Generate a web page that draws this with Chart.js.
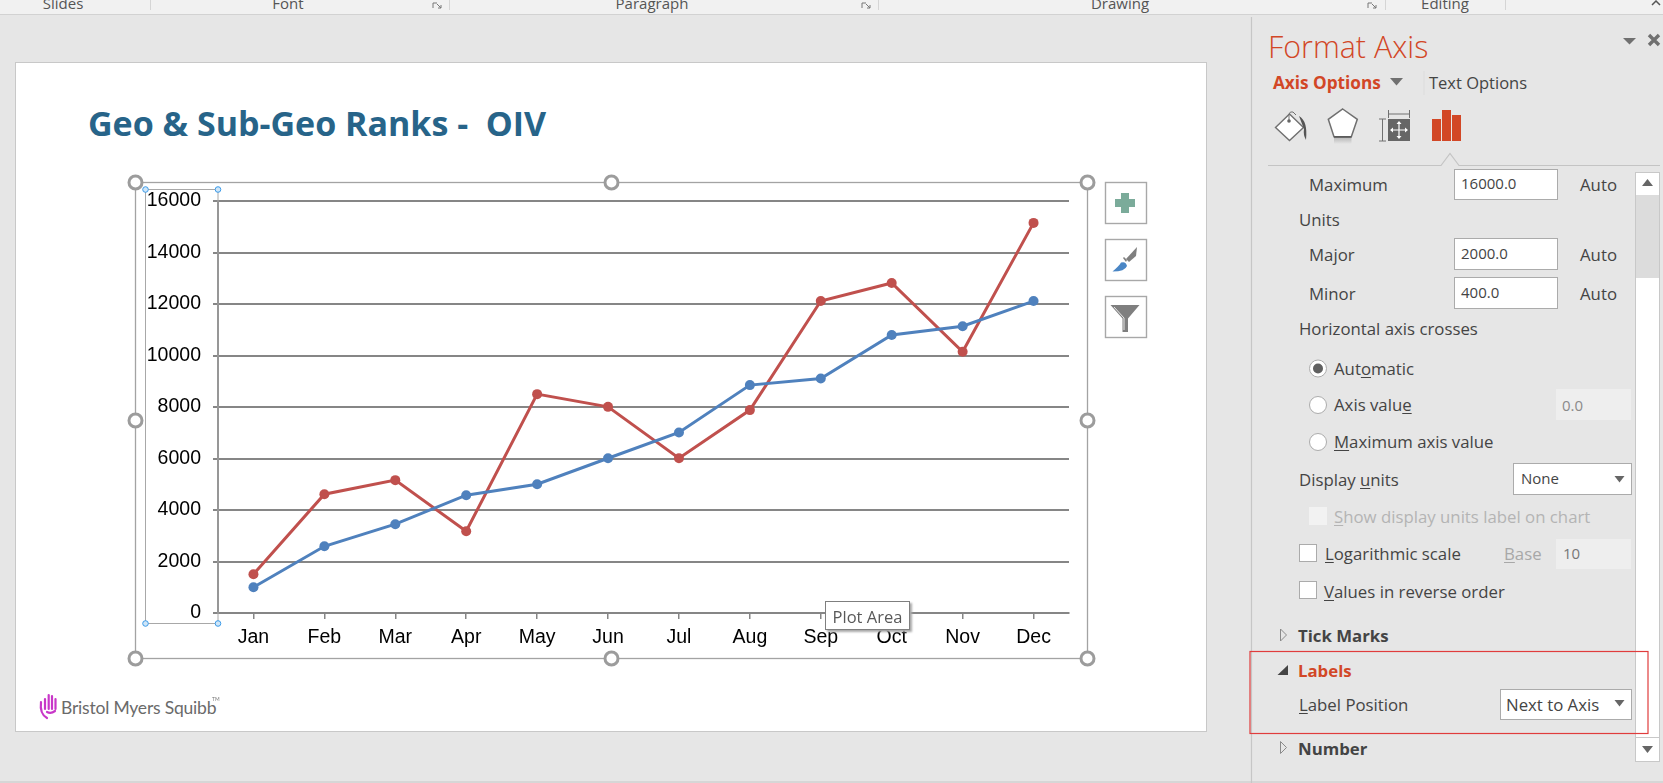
<!DOCTYPE html>
<html>
<head>
<meta charset="utf-8">
<title>Format Axis</title>
<script src="https://cdn.jsdelivr.net/npm/chart.js@4/dist/chart.umd.min.js"></script>
<style>
html,body{margin:0;padding:0;width:1663px;height:783px;overflow:hidden;background:#e6e6e6;font-family:"Open Sans",sans-serif;color:#444}
div{position:absolute;box-sizing:border-box}
.t{white-space:nowrap;font-size:16.8px;line-height:20px;transform:translateY(-50%)}
.b{font-weight:700}
.r{color:#d24726}
.dis{color:#b4b4b4}
.box{background:#fff;border:1.5px solid #ababab}
.off{background:#eeeeee}
.val{white-space:nowrap;font-size:15px;line-height:20px;transform:translateY(-50%)}
u{text-underline-offset:2px}
#ribbon{left:0;top:0;width:1663px;height:15px;background:#f1f1f1;border-bottom:1.5px solid #d2d2d2;overflow:hidden}
#ribbon .g{top:-7px;font-size:15px;line-height:20px;color:#555;transform:translateX(-50%);white-space:nowrap}
#ribbon .s{top:0;width:1px;height:10px;background:#d5d5d5}
#slide{left:15px;top:62px;width:1192px;height:670px;background:#fff;border:1.5px solid #c8c8c8}
#cv{position:absolute;left:135px;top:177px}
#over{position:absolute;left:0;top:0;pointer-events:none}
#tip{left:825px;top:601px;width:85px;height:29px;background:#fff;border:1px solid #7f7f7f;box-shadow:2px 2px 2px #aaa;font-size:16.5px;line-height:29px;color:#595959;text-align:center;white-space:nowrap}
</style>
</head>
<body>
<div id="ribbon">
  <div class="g" style="left:63px">Slides</div>
  <div class="g" style="left:288px">Font</div>
  <div class="g" style="left:652px">Paragraph</div>
  <div class="g" style="left:1120px">Drawing</div>
  <div class="g" style="left:1445px">Editing</div>
  <div class="s" style="left:150px"></div>
  <div class="s" style="left:449px"></div>
  <div class="s" style="left:878px"></div>
  <div class="s" style="left:1385px"></div>
  <div class="s" style="left:1505px"></div>
</div>
<div id="slide"></div>
<div class="t b" id="title" style="left:88px;top:123px;font-size:34px;line-height:40px;color:#276489;white-space:pre">Geo &amp; Sub-Geo Ranks -  OIV</div>
<div class="t" style="left:61px;top:708px;font-family:Lato,sans-serif;font-size:17.5px;line-height:24px;color:#6a6a6a;letter-spacing:-0.2px">Bristol Myers Squibb</div>

<canvas id="cv" width="950" height="478" style="width:950px;height:478px"></canvas>

<!-- task pane -->
<div class="t r" style="left:1268px;top:47px;font-size:30.4px;line-height:38px;font-weight:300">Format Axis</div>
<div class="t b r" style="left:1273px;top:83px;font-size:17.2px">Axis Options</div>
<div class="t" style="left:1429px;top:83px;font-size:16.5px">Text Options</div>

<div class="t" style="left:1309px;top:185px">Maximum</div>
<div class="box" style="left:1454px;top:169px;width:104px;height:31px"></div>
<div class="val" style="left:1461px;top:183px">16000.0</div>
<div class="t" style="left:1580px;top:185px">Auto</div>
<div class="t" style="left:1299px;top:220px">Units</div>
<div class="t" style="left:1309px;top:255px">Major</div>
<div class="box" style="left:1454px;top:238px;width:104px;height:32px"></div>
<div class="val" style="left:1461px;top:253px">2000.0</div>
<div class="t" style="left:1580px;top:255px">Auto</div>
<div class="t" style="left:1309px;top:294px">Minor</div>
<div class="box" style="left:1454px;top:277px;width:104px;height:32px"></div>
<div class="val" style="left:1461px;top:292px">400.0</div>
<div class="t" style="left:1580px;top:294px">Auto</div>
<div class="t" style="left:1299px;top:329px">Horizontal axis crosses</div>
<div class="t" style="left:1334px;top:369px">Aut<u>o</u>matic</div>
<div class="t" style="left:1334px;top:405px">Axis valu<u>e</u></div>
<div class="off" style="left:1556px;top:389px;width:75px;height:31px"></div>
<div class="val" style="left:1562px;top:405px;color:#8a8a8a">0.0</div>
<div class="t" style="left:1334px;top:442px"><u>M</u>aximum axis value</div>
<div class="t" style="left:1299px;top:480px">Display <u>u</u>nits</div>
<div class="box" style="left:1513px;top:463px;width:119px;height:32px"></div>
<div class="val" style="left:1521px;top:478px">None</div>
<div class="off" style="left:1309px;top:507px;width:18px;height:18px;background:#f2f2f2"></div>
<div class="t dis" style="left:1334px;top:517px"><u>S</u>how display units label on chart</div>
<div class="box" style="left:1299px;top:544px;width:18px;height:18px"></div>
<div class="t" style="left:1325px;top:554px"><u>L</u>ogarithmic scale</div>
<div class="t dis" style="left:1504px;top:554px;color:#a8a8a8"><u>B</u>ase</div>
<div class="off" style="left:1556px;top:539px;width:75px;height:30px"></div>
<div class="val" style="left:1563px;top:553px;color:#777">10</div>
<div class="box" style="left:1299px;top:581px;width:18px;height:18px"></div>
<div class="t" style="left:1324px;top:592px"><u>V</u>alues in reverse order</div>
<div class="t b" style="left:1298px;top:636px">Tick Marks</div>
<div class="t b r" style="left:1298px;top:671px">Labels</div>
<div class="t" style="left:1299px;top:705px"><u>L</u>abel Position</div>
<div class="box" style="left:1500px;top:689px;width:132px;height:31px"></div>
<div class="t" style="left:1506px;top:705px">Next to Axis</div>
<div class="t b" style="left:1298px;top:749px">Number</div>

<div class="box" style="left:1635px;top:172px;width:25px;height:590px;border-color:#c8c8c8;border-width:1px"></div>
<div style="left:1636px;top:195px;width:23px;height:83px;background:#dcdcdc"></div>
<div style="left:1635px;top:737px;width:25px;height:1px;background:#c8c8c8"></div>

<svg id="over" width="1663" height="783" viewBox="0 0 1663 783">
  <!-- chart selection frame -->
  <rect x="135.5" y="182.5" width="952" height="476" fill="none" stroke="#a3a3a3" stroke-width="1.3"/>
  <rect x="145.5" y="189.5" width="72.5" height="434" fill="none" stroke="#a8a8a8" stroke-width="1"/>
  <g fill="#fff" stroke="#9c9c9c" stroke-width="3">
    <circle cx="135.5" cy="182.5" r="6.5"/><circle cx="611.5" cy="182.5" r="6.5"/><circle cx="1087.5" cy="182.5" r="6.5"/>
    <circle cx="135.5" cy="420.5" r="6.5"/><circle cx="1087.5" cy="420.5" r="6.5"/>
    <circle cx="135.5" cy="658.5" r="6.5"/><circle cx="611.5" cy="658.5" r="6.5"/><circle cx="1087.5" cy="658.5" r="6.5"/>
  </g>
  <g fill="#cfe6f8" stroke="#3b9ae8" stroke-width="1">
    <circle cx="145.5" cy="189.5" r="2.8"/><circle cx="218" cy="189.5" r="2.8"/>
    <circle cx="145.5" cy="623.5" r="2.8"/><circle cx="218" cy="623.5" r="2.8"/>
  </g>

  <!-- chart side buttons -->
  <g fill="#fff" stroke="#a8a8a8" stroke-width="1.4">
    <rect x="1105.5" y="182.5" width="41" height="41"/>
    <rect x="1105.5" y="239.5" width="41" height="41"/>
    <rect x="1105.5" y="296.5" width="41" height="41"/>
  </g>
  <path d="M1121 193h8v6h6v8h-6v6h-8v-6h-6v-8h6z" fill="#7bab9a"/>
  <path d="M1137 247l-1 9-7 6-3-3z" fill="#7f7f7f"/>
  <path d="M1127 260l-3-3-1 1 3 4z" fill="#7f7f7f"/>
  <path d="M1112.5 271.5Q1119 266 1121 262.5Q1126 261 1127 266Q1125 271.5 1112.5 271.5z" fill="#4a86c5"/>
  <path d="M1110.5 305h29l-11.5 13.5v13.5h-5.5v-13.5z" fill="#7f7f7f"/>
  <path d="M1114 307l10 11v12" fill="none" stroke="#e8e8e8" stroke-width="1"/>

  <!-- logo hand -->
  <g fill="none" stroke="#c837c8" stroke-width="2.2" stroke-linecap="round">
    <path d="M45 699V709"/><path d="M48.7 695V709"/><path d="M52 696V709"/><path d="M55.5 699V709"/>
    <path d="M41 702Q39.5 714 47 718"/>
    <path d="M47 712Q51 714 55 711"/>
  </g>
  <text x="212" y="701" font-family="Lato,sans-serif" font-size="5" fill="#777">TM</text>

  <!-- ribbon launchers -->
  <g fill="none" stroke="#777" stroke-width="1">
    <path d="M433 8V3h4M437 4l4 4M441 5v3h-3"/>
    <path d="M862 8V3h4M866 4l4 4M870 5v3h-3"/>
    <path d="M1368 8V3h4M1372 4l4 4M1376 5v3h-3"/>
    <path d="M1652 5l4-4 4 4" stroke-width="1.5" stroke="#555"/>
  </g>

  <!-- pane border -->
  <path d="M1251.5 17V783" stroke="#c6c6c6" stroke-width="1.2"/>
  <path d="M0 782H1663" stroke="#c6c6c6" stroke-width="1.2"/>

  <!-- pane header glyphs -->
  <path d="M1623 38h13l-6.5 6.5z" fill="#707070"/>
  <path d="M1649 35l10 10M1659 35l-10 10" stroke="#707070" stroke-width="3.4"/>
  <path d="M1390 78h13l-6.5 7.5z" fill="#707070"/>
  <path d="M1424 71V95" stroke="#dcdcdc" stroke-width="1"/>

  <!-- tab icons -->
  <path d="M1289.5 114l14 13.5-14 13-14-13z" fill="#fff" stroke="#707070" stroke-width="1.4"/>
  <path d="M1289 121v-7q1-3 4-2l3 3" fill="none" stroke="#707070" stroke-width="1"/>
  <circle cx="1289" cy="121" r="1.8" fill="#666"/>
  <path d="M1299 116q9 5 7 24q-3-5-2-11z" fill="#555"/>
  <path d="M1342.7 109l14.6 10.3-6 17.4h-17.3l-5.7-17.4z" fill="#fff" stroke="#707070" stroke-width="1.5"/>
  <path d="M1334 137h17.5" stroke="#555" stroke-width="1.5"/>
  <defs><linearGradient id="fade" x1="0" y1="0" x2="0" y2="1"><stop offset="0" stop-color="#bbb"/><stop offset="1" stop-color="#e6e6e6"/></linearGradient></defs>
  <rect x="1334" y="138" width="17.5" height="6" fill="url(#fade)"/>
  <rect x="1388" y="119" width="22" height="22" fill="#666"/>
  <path d="M1388.5 110v8M1409.5 110v8M1388.5 114h21M1379 119h7M1379 141h7M1382.5 119v22" fill="none" stroke="#707070" stroke-width="1"/>
  <path d="M1399 122v16M1391 130h16" stroke="#fff" stroke-width="1.2"/>
  <path d="M1399 121l-2.5 3h5zM1399 139l-2.5-3h5zM1390 130l3-2.5v5zM1408 130l-3-2.5v5z" fill="#fff"/>
  <path d="M1432 119h9v22h-9zM1442 110h9v31h-9zM1452 115h9v26h-9z" fill="#d24726"/>
  <path d="M1268 165.5H1441l9-12 9 12H1660" fill="#e6e6e6" stroke="#c4c4c4" stroke-width="1.2"/>

  <!-- radio buttons -->
  <g fill="#fff" stroke="#ababab" stroke-width="1">
    <circle cx="1318" cy="368.5" r="8.5"/><circle cx="1318" cy="405" r="8.5"/><circle cx="1318" cy="442" r="8.5"/>
  </g>
  <circle cx="1318" cy="368.5" r="5" fill="#606060"/>

  <!-- dropdown and scrollbar arrows, section markers -->
  <g fill="#666">
    <path d="M1614.5 476h10l-5 6.5z"/>
    <path d="M1614.5 700h10l-5 6.5z"/>
    <path d="M1642 186l5.500-7 5.500 7z"/>
    <path d="M1642 746l5.500 7 5.500-7z"/>
  </g>
  <path d="M1280.5 629l6 6-6 6zM1280.5 741.500l6 6-6 6z" fill="none" stroke="#8a8a8a" stroke-width="1"/>
  <path d="M1288 665v10h-10.500z" fill="#444"/>
  <rect x="1250" y="651.500" width="398" height="82" fill="none" stroke="#e03c3c" stroke-width="1.2"/>
</svg>

<div id="tip">Plot Area</div>

<script>
const months = ['Jan','Feb','Mar','Apr','May','Jun','Jul','Aug','Sep','Oct','Nov','Dec'];
const blueValues = [1000,2590,3450,4575,5000,6010,7010,8850,9110,10795,11135,12115];
const redValues = [1505,4615,5160,3175,8500,8005,6010,7880,12115,12815,10145,15150];
const yTicks = [0,2000,4000,6000,8000,10000,12000,14000,16000];

const ctx = document.getElementById('cv');

new Chart(ctx, {
    type: 'line',
    data: {
        labels: months,
        datasets: [
            {
                label: 'Series 1',
                data: blueValues,
                borderColor: '#4f81bd',
                backgroundColor: '#4f81bd',
                borderWidth: 3,
                pointRadius: 5,
                pointBorderWidth: 0,
                tension: 0,
            },
            {
                label: 'Series 2',
                data: redValues,
                borderColor: '#c0504d',
                backgroundColor: '#c0504d',
                borderWidth: 3,
                pointRadius: 5,
                pointBorderWidth: 0,
                tension: 0,
            }
        ],
    },
    options: {
        responsive: false,
        maintainAspectRatio: false,
        animation: false,
        // top padding keeps the plot clear of the tick label auto padding
        layout: { padding: { top: 24, right: 16, left: 0, bottom: 0 } },
        plugins: { legend: { display: false }, tooltip: { enabled: false } },
        scales: {
            x: {
                offset: true,
                afterFit: (s) => { s.height = 42; },
                border: { color: '#868686', width: 2 },
                grid: { drawOnChartArea: false, color: '#868686', lineWidth: 1.5, tickLength: 6 },
                ticks: {
                    color: '#000',
                    padding: 7,
                    maxRotation: 0,
                    autoSkip: false,
                    font: { family: '"Liberation Sans"', size: 19.5 },
                },
            },
            y: {
                min: 0,
                max: 16000,
                afterBuildTicks: (s) => { s.ticks = yTicks.map((v) => ({ value: v })); },
                afterFit: (s) => { s.width = 83; },
                border: { color: '#868686', width: 2 },
                grid: { color: '#868686', lineWidth: 2, tickLength: 5 },
                ticks: {
                    color: '#000',
                    padding: 12,
                    callback: (v) => String(v),
                    font: { family: '"Liberation Sans"', size: 19.5 },
                },
            },
        },
    },
});
</script>
</body>
</html>
